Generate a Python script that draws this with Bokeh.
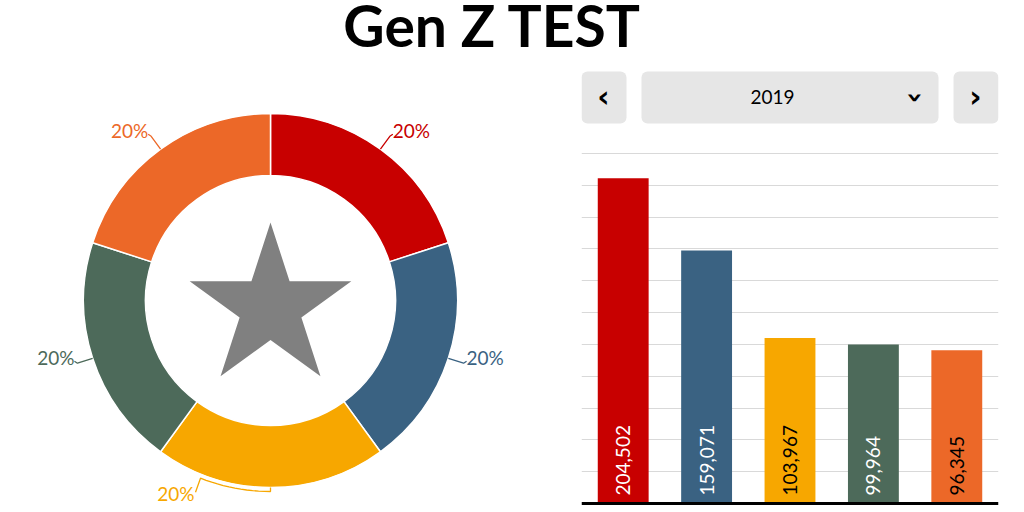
import math
from bokeh.plotting import figure
from bokeh.layouts import column, row
from bokeh.models import Range1d, FactorRange, Span, Grid, FixedTicker, ColumnDataSource
from bokeh.core.properties import value
from bokeh.embed import file_html
from bokeh.resources import INLINE

# ---------------- data ----------------
title_text = "Gen Z TEST"
year = "2019"
slice_names = ["Top 1", "Top 2", "Top 3", "Top 4", "Top 5"]
slice_shares = [20, 20, 20, 20, 20]
bar_categories = ["Top 1", "Top 2", "Top 3", "Top 4", "Top 5"]
bar_values = [204502, 159071, 103967, 99964, 96345]
grid_step = 20000
y_max = 220000

# ---------------- styles ----------------
colors = ["#C80000", "#3A6282", "#F7A700", "#4D6A5A", "#EC6828"]
value_label_colors = ["#ffffff", "#ffffff", "#000000", "#ffffff", "#000000"]
FONT = "Lato"

def bare(p):
    p.xgrid.visible = False
    p.ygrid.visible = False
    p.outline_line_color = None
    p.background_fill_color = "white"
    p.border_fill_color = "white"
    p.min_border = 0
    return p

# ---------------- title ----------------
tp = bare(figure(width=1024, height=48, x_range=Range1d(0, 1024), y_range=Range1d(0, 48),
                 output_backend="svg", toolbar_location=None,
                 x_axis_location=None, y_axis_location=None))
tp.text(x=[492], y=[24], text=[title_text], text_font=value(FONT), text_font_style="bold",
        text_font_size="57px", text_color="black", text_align="center",
        text_baseline="middle")

# ---------------- donut ----------------
R_OUT, R_IN = 187, 125
dp = bare(figure(width=570, height=464, x_range=Range1d(-270, 300), y_range=Range1d(-212, 252),
                 output_backend="svg", toolbar_location=None,
                 x_axis_location=None, y_axis_location=None))
total = float(sum(slice_shares))
starts, ends, mids = [], [], []
cum = 0.0
for s in slice_shares:
    a0 = math.pi / 2 - cum / total * 2 * math.pi
    cum += s
    a1 = math.pi / 2 - cum / total * 2 * math.pi
    starts.append(a0)
    ends.append(a1)
    mids.append((a0 + a1) / 2)
dsrc = ColumnDataSource(dict(start=starts, end=ends, color=colors))
dp.annular_wedge(x=0, y=0, inner_radius=R_IN, outer_radius=R_OUT, start_angle="start",
                 end_angle="end", direction="clock", fill_color="color",
                 line_color="white", line_width=1.5, source=dsrc)
dp.scatter(x=[0], y=[-7], marker="star", size=170, fill_color="#808080", line_color=None)

for share, col, m in zip(slice_shares, colors, mids):
    label = f"{share}%"
    cx, cy = math.cos(m), math.sin(m)
    if cy < -0.9:
        # bottom label: connector runs along the ring, then out to the label
        rr = R_OUT + 4
        xs = [R_OUT * cx, rr * cx]
        ys = [R_OUT * cy, rr * cy]
        n = 12
        for k in range(1, n + 1):
            a = m - math.radians(21.5) * k / n
            xs.append(rr * math.cos(a))
            ys.append(rr * math.sin(a))
        xs.append(xs[-1] - 5)
        ys.append(ys[-1] - 14)
        dp.line(xs, ys, line_color=col, line_width=1.3)
        dp.text(x=[xs[-1] - 1], y=[ys[-1] - 1], text=[label], text_font=value(FONT),
                text_font_size="19px", text_color=col, text_align="right",
                text_baseline="middle")
    else:
        r1 = R_OUT + 16
        x1, y1 = r1 * cx, r1 * cy
        sgn = 1 if cx >= 0 else -1
        dp.line([R_OUT * cx, x1, x1 + sgn * 3], [R_OUT * cy, y1, y1 + 2],
                line_color=col, line_width=1.3)
        dp.text(x=[x1 + sgn * 3], y=[y1 + 6], text=[label], text_font=value(FONT),
                text_font_size="19px", text_color=col,
                text_align="left" if sgn > 0 else "right", text_baseline="middle")

# ---------------- buttons (frame aligned with the bar chart frame) ----------------
bp = bare(figure(width=454, height=90, x_range=Range1d(0, 417), y_range=Range1d(0, 90),
                 output_backend="svg", toolbar_location=None,
                 x_axis_location=None, y_axis_location=None))
bp.min_border_left = 11
bp.min_border_right = 26
bp.quad(left=[0, 60, 372], right=[45, 357, 417], top=[67, 67, 67], bottom=[15, 15, 15],
        fill_color="#E6E6E6", line_color=None, border_radius=6)
bp.text(x=[191], y=[42], text=[year], text_font=value(FONT), text_font_size="19px",
        text_color="black", text_align="center", text_baseline="middle")
bp.text(x=[22, 394], y=[42, 42], text=["\u2039", "\u203A"], text_font=value("DejaVu Sans"),
        text_font_style="bold", text_font_size="30px", text_color="black",
        text_align="center", text_baseline="middle")
bp.text(x=[334], y=[41], text=["\u203A"], angle=-math.pi / 2, text_font=value("DejaVu Sans"),
        text_font_style="bold", text_font_size="28px", text_color="black",
        text_align="center", text_baseline="middle")

# ---------------- bars ----------------
px = y_max / 350.0
cp = figure(width=454, height=374, x_range=FactorRange(*bar_categories, range_padding=0),
            y_range=Range1d(-9 * px, y_max + px), output_backend="svg", toolbar_location=None,
            x_axis_location=None, y_axis_location=None)
cp.outline_line_color = None
cp.min_border_left = 11
cp.min_border_right = 26
cp.min_border_top = 14
cp.min_border_bottom = 0
cp.xgrid.visible = False
cp.ygrid.visible = False
cp.add_layout(Grid(dimension=1, ticker=FixedTicker(ticks=list(range(grid_step, y_max + 1, grid_step))),
                   grid_line_color="#D9D9D9", grid_line_width=1.2), "center")
bsrc = ColumnDataSource(dict(cat=bar_categories, val=bar_values, color=colors,
                             lab=[f"{v:,}" for v in bar_values], lcol=value_label_colors))
cp.vbar(x="cat", top="val", width=0.61, fill_color="color", line_color=None, source=bsrc)
cp.add_layout(Span(location=0, dimension="width", line_color="black", line_width=3))
cp.text(x="cat", y=0, text="lab", angle=math.pi / 2, text_font=value(FONT),
        text_font_size="19px", text_color="lcol", text_align="left",
        text_baseline="middle", y_offset=-8, source=bsrc)
cp.text(x="cat", y=0, text="cat", text_font=value(FONT), text_font_size="16px",
        text_color="black", text_align="center", text_baseline="top", y_offset=3, source=bsrc)

layout = column(tp, row(dp, column(bp, cp, spacing=0), spacing=0), spacing=0)
open("out.html", "w").write(file_html(layout, INLINE))
